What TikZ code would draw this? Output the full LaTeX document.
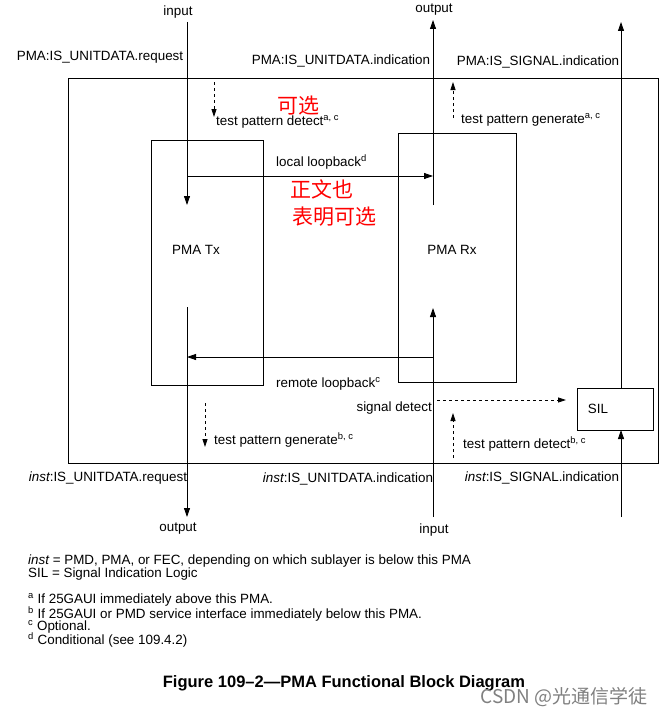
\documentclass[tikz,border=0pt]{standalone}
\usepackage{fontspec}
\setmainfont{Liberation Sans}
\newfontfamily\cjk{Noto Sans CJK SC}
\usetikzlibrary{arrows.meta}
\begin{document}
\begin{tikzpicture}[x=1pt,y=-1pt,
  every node/.style={font=\fontsize{13.4}{15}\selectfont,inner sep=0pt},
  box/.style={draw,line width=0.8pt},
  arr/.style={draw,line width=0.8pt,-{Triangle[length=9pt,width=6pt]}},
  darr/.style={draw,line width=0.8pt,dash pattern=on 3pt off 3pt,-{Triangle[length=8pt,width=5pt]}},
  red/.style={text=red,font=\cjk\fontsize{21}{23}\selectfont}]
\useasboundingbox (0,0) rectangle (664,717);
\node[box,minimum width=590pt,minimum height=385pt] (outer) at (363,270.5) {};
\node[box,minimum width=112pt,minimum height=245pt] (tx) at (207,262.5) {};
\node[box,minimum width=118pt,minimum height=249pt] (rx) at (457,257.5) {};
\node[box,minimum width=76pt,minimum height=42pt] (sil) at (615,409) {};
\node at (598,409) {SIL};
\node (txl) at (196,250) {PMA Tx};
\node (rxl) at (452,250) {PMA Rx};
\coordinate (inT) at (187,22); \coordinate (inTe) at (187,205);
\coordinate (outT) at (433,205); \coordinate (outTe) at (433,20);
\coordinate (sigT) at (621,388); \coordinate (sigTe) at (621,22);
\coordinate (d1a) at (214,82); \coordinate (d1b) at (214,117);
\coordinate (d2a) at (453,118); \coordinate (d2b) at (453,82);
\coordinate (llA) at (187,176); \coordinate (llB) at (433,176);
\coordinate (inB) at (433,517); \coordinate (inBe) at (433,308);
\coordinate (rlA) at (433,357); \coordinate (rlB) at (187,357);
\coordinate (outB) at (187,307); \coordinate (outBe) at (187,517);
\coordinate (d3a) at (205,403); \coordinate (d3b) at (205,447);
\coordinate (sdA) at (437,400); \coordinate (sdB) at (566,400);
\coordinate (d4a) at (453,458); \coordinate (d4b) at (453,413);
\coordinate (silIn) at (621,517); \coordinate (silInE) at (621,430);
\path[arr] (inT) -- (inTe);
\path[arr] (outT) -- (outTe);
\path[arr] (sigT) -- (sigTe);
\path[darr] (d1a) -- (d1b);
\path[darr] (d2a) -- (d2b);
\path[arr] (llA) -- (llB);
\path[arr] (inB) -- (inBe);
\path[arr] (rlA) -- (rlB);
\path[arr] (outB) -- (outBe);
\path[darr] (d3a) -- (d3b);
\path[darr] (sdA) -- (sdB);
\path[darr] (d4a) -- (d4b);
\path[arr] (silIn) -- (silInE);
\node at (178,12) {input};
\node at (434,10) {output};
\node at (100,57) {PMA:IS\_UNITDATA.request};
\node at (341,61) {PMA:IS\_UNITDATA.indication};
\node at (538,62) {PMA:IS\_SIGNAL.indication};
\node[anchor=west] at (216,122) {test pattern detect\textsuperscript{a, c}};
\node[anchor=west] at (461,120) {test pattern generate\textsuperscript{a, c}};
\node[anchor=west] at (276,162) {local loopback\textsuperscript{d}};
\node[anchor=west] at (276,384) {remote loopback\textsuperscript{c}};
\node[anchor=east] at (432,408) {signal detect};
\node[anchor=west] at (214,440) {test pattern generate\textsuperscript{b, c}};
\node[anchor=west] at (463,444) {test pattern detect\textsuperscript{b, c}};
\node[red] at (298,106) {可选};
\node[red] at (322,189) {正文也};
\node[red] at (334,217) {表明可选};
\node at (108,478) {\itshape inst\upshape:IS\_UNITDATA.request};
\node at (348,479) {\itshape inst\upshape:IS\_UNITDATA.indication};
\node at (542,478) {\itshape inst\upshape:IS\_SIGNAL.indication};
\node at (178,529) {output};
\node at (434,530) {input};
\node[anchor=west] at (28,561) {\itshape inst\upshape{} = PMD, PMA, or FEC, depending on which sublayer is below this PMA};
\node[anchor=west] at (28,574) {SIL = Signal Indication Logic};
\node[anchor=west] at (28,600) {\textsuperscript{a} If 25GAUI immediately above this PMA.};
\node[anchor=west] at (28,614) {\textsuperscript{b} If 25GAUI or PMD service interface immediately below this PMA.};
\node[anchor=west] at (28,627) {\textsuperscript{c} Optional.};
\node[anchor=west] at (28,640) {\textsuperscript{d} Conditional (see 109.4.2)};
\node[font=\bfseries\fontsize{16.5}{18}\selectfont] at (344,683) {Figure 109--2---PMA Functional Block Diagram};
\node[text=gray,font=\cjk\fontsize{19}{21}\selectfont] at (564,697) {CSDN @光通信学徒};
\end{tikzpicture}
\end{document}
